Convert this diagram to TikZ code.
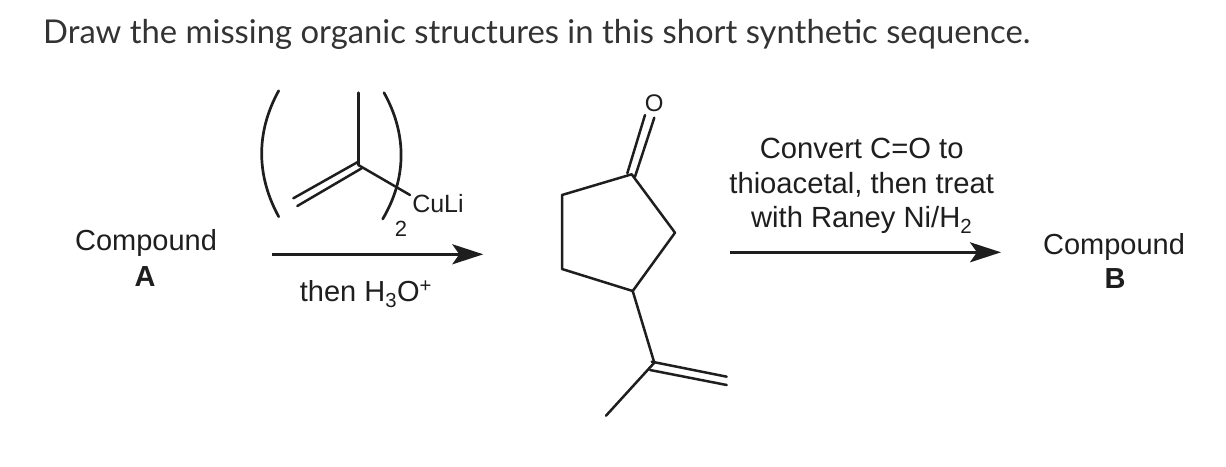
\documentclass[tikz,border=0pt]{standalone}
\usepackage{fontspec}
\setmainfont{Liberation Sans}
\newfontfamily\latofont{Lato}
\usetikzlibrary{arrows.meta}
\definecolor{ink}{HTML}{1E1E1E}
\definecolor{titleink}{HTML}{333333}
\tikzset{
  x=1pt,y=-1pt,
  bond/.style={draw=ink,line width=2.5pt,line cap=round},
  paren/.style={draw=ink,line width=2.7pt,line cap=round},
  rxn/.style={draw=ink,line width=2.8pt,-{Stealth[length=31pt,width=20pt,inset=7pt]},shorten >=0pt},
  chem/.style={text=ink,inner sep=0pt,font=\fontsize{29}{34}\selectfont,align=center},
  small/.style={text=ink,inner sep=0pt},
  heading/.style={text=titleink,inner sep=0pt,anchor=west,font=\latofont\fontsize{32.8}{38}\selectfont}
}
\begin{document}
\begin{tikzpicture}
\useasboundingbox (0,0) rectangle (1226,466);
\node[heading] (title) at (43,34.5) {Draw the missing organic structures in this short synthetic sequence.};

\node[chem] (compA) at (146,243) {Compound};
\node[chem] (labA) at (145,277) {\bfseries A};
\node[chem] (compB) at (1114,247) {Compound};
\node[chem] (labB) at (1115,279) {\bfseries B};

% cuprate
\coordinate (pl1) at (278.7,90.7); \coordinate (pl2) at (278.7,216.7);
\coordinate (pr1) at (384,92.7); \coordinate (pr2) at (382.7,219);
\draw[paren] (pl1) .. controls (256,132) and (256,175) .. (pl2);
\draw[paren] (pr1) .. controls (407,134) and (407,178) .. (pr2);
\coordinate (me) at (358.3,92.7); \coordinate (cc) at (358.3,165);
\coordinate (dA1) at (293.3,198.3); \coordinate (dA2) at (358.3,161.7);
\coordinate (dB1) at (297.3,206); \coordinate (dB2) at (361.7,168.3);
\node[small,font=\fontsize{25}{29}\selectfont] (culi) at (438,204) {CuLi};
\node[small,font=\fontsize{22}{26}\selectfont] (two) at (401,228.5) {2};
\draw[bond] (me) -- (cc);
\draw[bond] (cc) -- (410,195);
\draw[bond] (dA1) -- (dA2);
\draw[bond] (dB1) -- (dB2);

% first arrow
\coordinate (a1s) at (271.7,254.3); \coordinate (a1e) at (483.3,254.3);
\draw[rxn] (a1s) -- (a1e);
\node[small,font=\fontsize{29}{33}\selectfont] (then) at (366,294) {then H\textsubscript{3}O\textsuperscript{+}};

% product
\node[small,font=\fontsize{24}{28}\selectfont] (oxy) at (654.3,103.3) {O};
\coordinate (r1) at (631.7,174.3); \coordinate (r2) at (675,232.7);
\coordinate (r3) at (632.7,291); \coordinate (r4) at (562,269); \coordinate (r5) at (562,195);
\draw[bond,line join=round] (r1) -- (r2) -- (r3) -- (r4) -- (r5) -- cycle;
\coordinate (o1a) at (645,115); \coordinate (o1b) at (627.3,173.3);
\coordinate (o2a) at (654.3,117.7); \coordinate (o2b) at (635,176.7);
\draw[bond] (o1a) -- (o1b);
\draw[bond] (o2a) -- (o2b);
\coordinate (v) at (654.3,362.7); \coordinate (vme) at (606,415.7);
\draw[bond] (r3) -- (v);
\draw[bond] (v) -- (vme);
\coordinate (e1a) at (651.7,361.7); \coordinate (e1b) at (726.7,376.7);
\coordinate (e2a) at (650,370); \coordinate (e2b) at (726.7,385);
\draw[bond] (e1a) -- (e1b);
\draw[bond] (e2a) -- (e2b);

% second arrow
\coordinate (a2s) at (730,252.3); \coordinate (a2e) at (1001,252.3);
\draw[rxn] (a2s) -- (a2e);
\node[chem,font=\fontsize{29.2}{34.4}\selectfont] (cond) at (861.7,186) {Convert C=O to\\thioacetal, then treat\\with Raney Ni/H\textsubscript{2}};
\end{tikzpicture}
\end{document}
